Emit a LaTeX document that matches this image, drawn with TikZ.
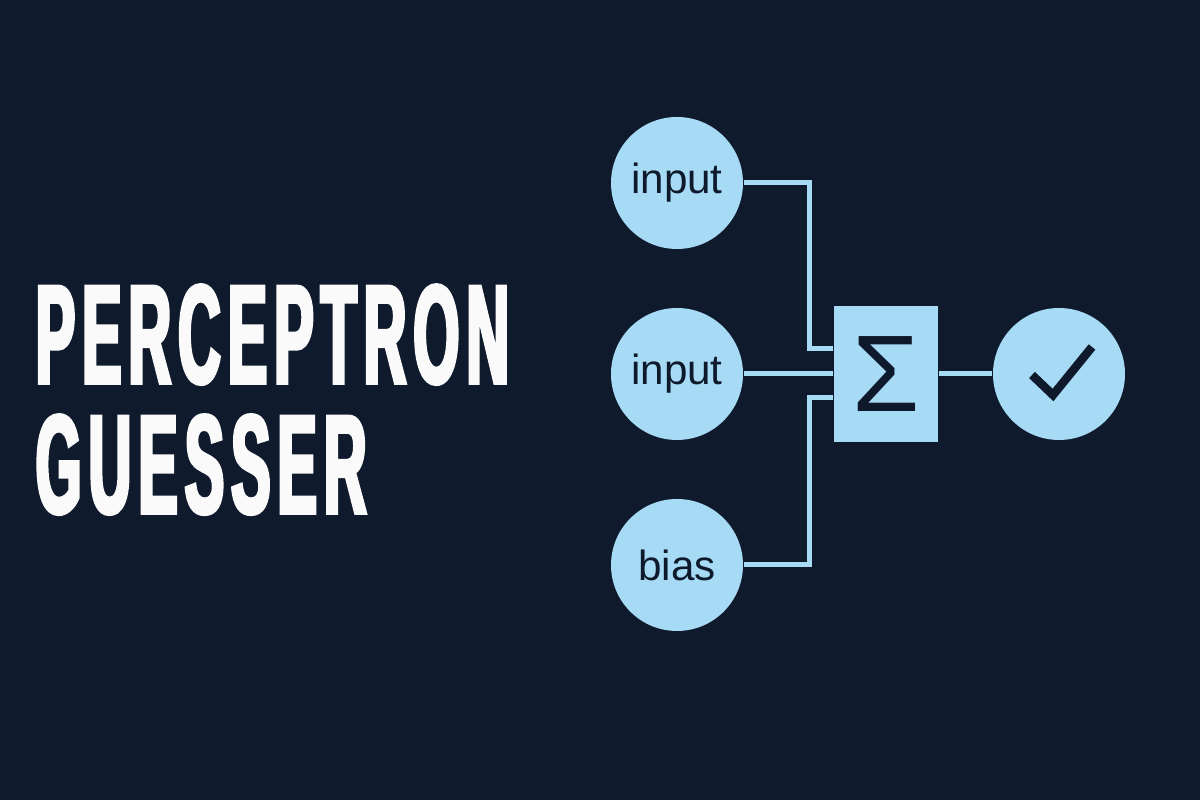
\documentclass[tikz,border=0pt]{standalone}
\usepackage{fontspec}
\setmainfont{Liberation Sans}
\newfontfamily\titlefont{Liberation Sans Bold}[FakeStretch=0.42,FakeBold=2.5,LetterSpace=5]
\newfontfamily\symfont{Liberation Sans}
\usetikzlibrary{
  positioning,
  calc,
}
\definecolor{bgNavy}{HTML}{0F1B2D}
\definecolor{unitBlue}{HTML}{A6DAF5}
\definecolor{inkDark}{HTML}{0E1A2B}
\definecolor{titleWhite}{HTML}{FAFAFA}
\tikzset{
  titletext/.style={
    anchor=base west, inner sep=0pt, text=titleWhite,
    font=\titlefont\fontsize{40}{40}\selectfont,
  },
  unit/.style={
    circle, fill=unitBlue, minimum size=1.32cm, inner sep=0pt,
    text=inkDark, font=\fontsize{12}{14}\selectfont,
  },
  sumbox/.style={
    rectangle, fill=unitBlue, minimum width=1.04cm, minimum height=1.36cm,
    inner sep=0pt, text=inkDark, font=\symfont\fontsize{31}{31}\selectfont,
  },
  wire/.style={draw=unitBlue, line width=0.05cm},
  tick/.style={draw=inkDark, line width=0.085cm},
}

\begin{document}
\begin{tikzpicture}

  \useasboundingbox[fill=bgNavy] (0,0) rectangle (12,8);

  % Title
  \node[titletext] (title1) at (0.35, 4.17) {PERCEPTRON};
  \node[titletext] (title2) at (0.35, 2.87) {GUESSER};

  % Inputs
  \node[unit] (in1) at (6.77, 6.17) {input};
  \node[unit] (in2) at (6.77, 4.26) {input};
  \node[unit] (bias) at (6.77, 2.35) {bias};

  % Sum and output
  \node[sumbox] (sum) at (8.86, 4.26) {Σ};
  \node[unit] (out) at (10.59, 4.26) {};
  \draw[tick] ($(out.center)+(-0.27,-0.01)$) -- ++(0.21,-0.20) -- ++(0.39,0.48);

  % Wires
  \coordinate (j1) at (8.09, 4.51);
  \coordinate (j2) at (8.09, 4.02);
  \draw[wire] (in1.east) -| (j1) -- (j1 -| sum.west);
  \draw[wire] (in2) -- (sum);
  \draw[wire] (bias.east) -| (j2) -- (j2 -| sum.west);
  \draw[wire] (sum) -- (out);

\end{tikzpicture}
\end{document}
